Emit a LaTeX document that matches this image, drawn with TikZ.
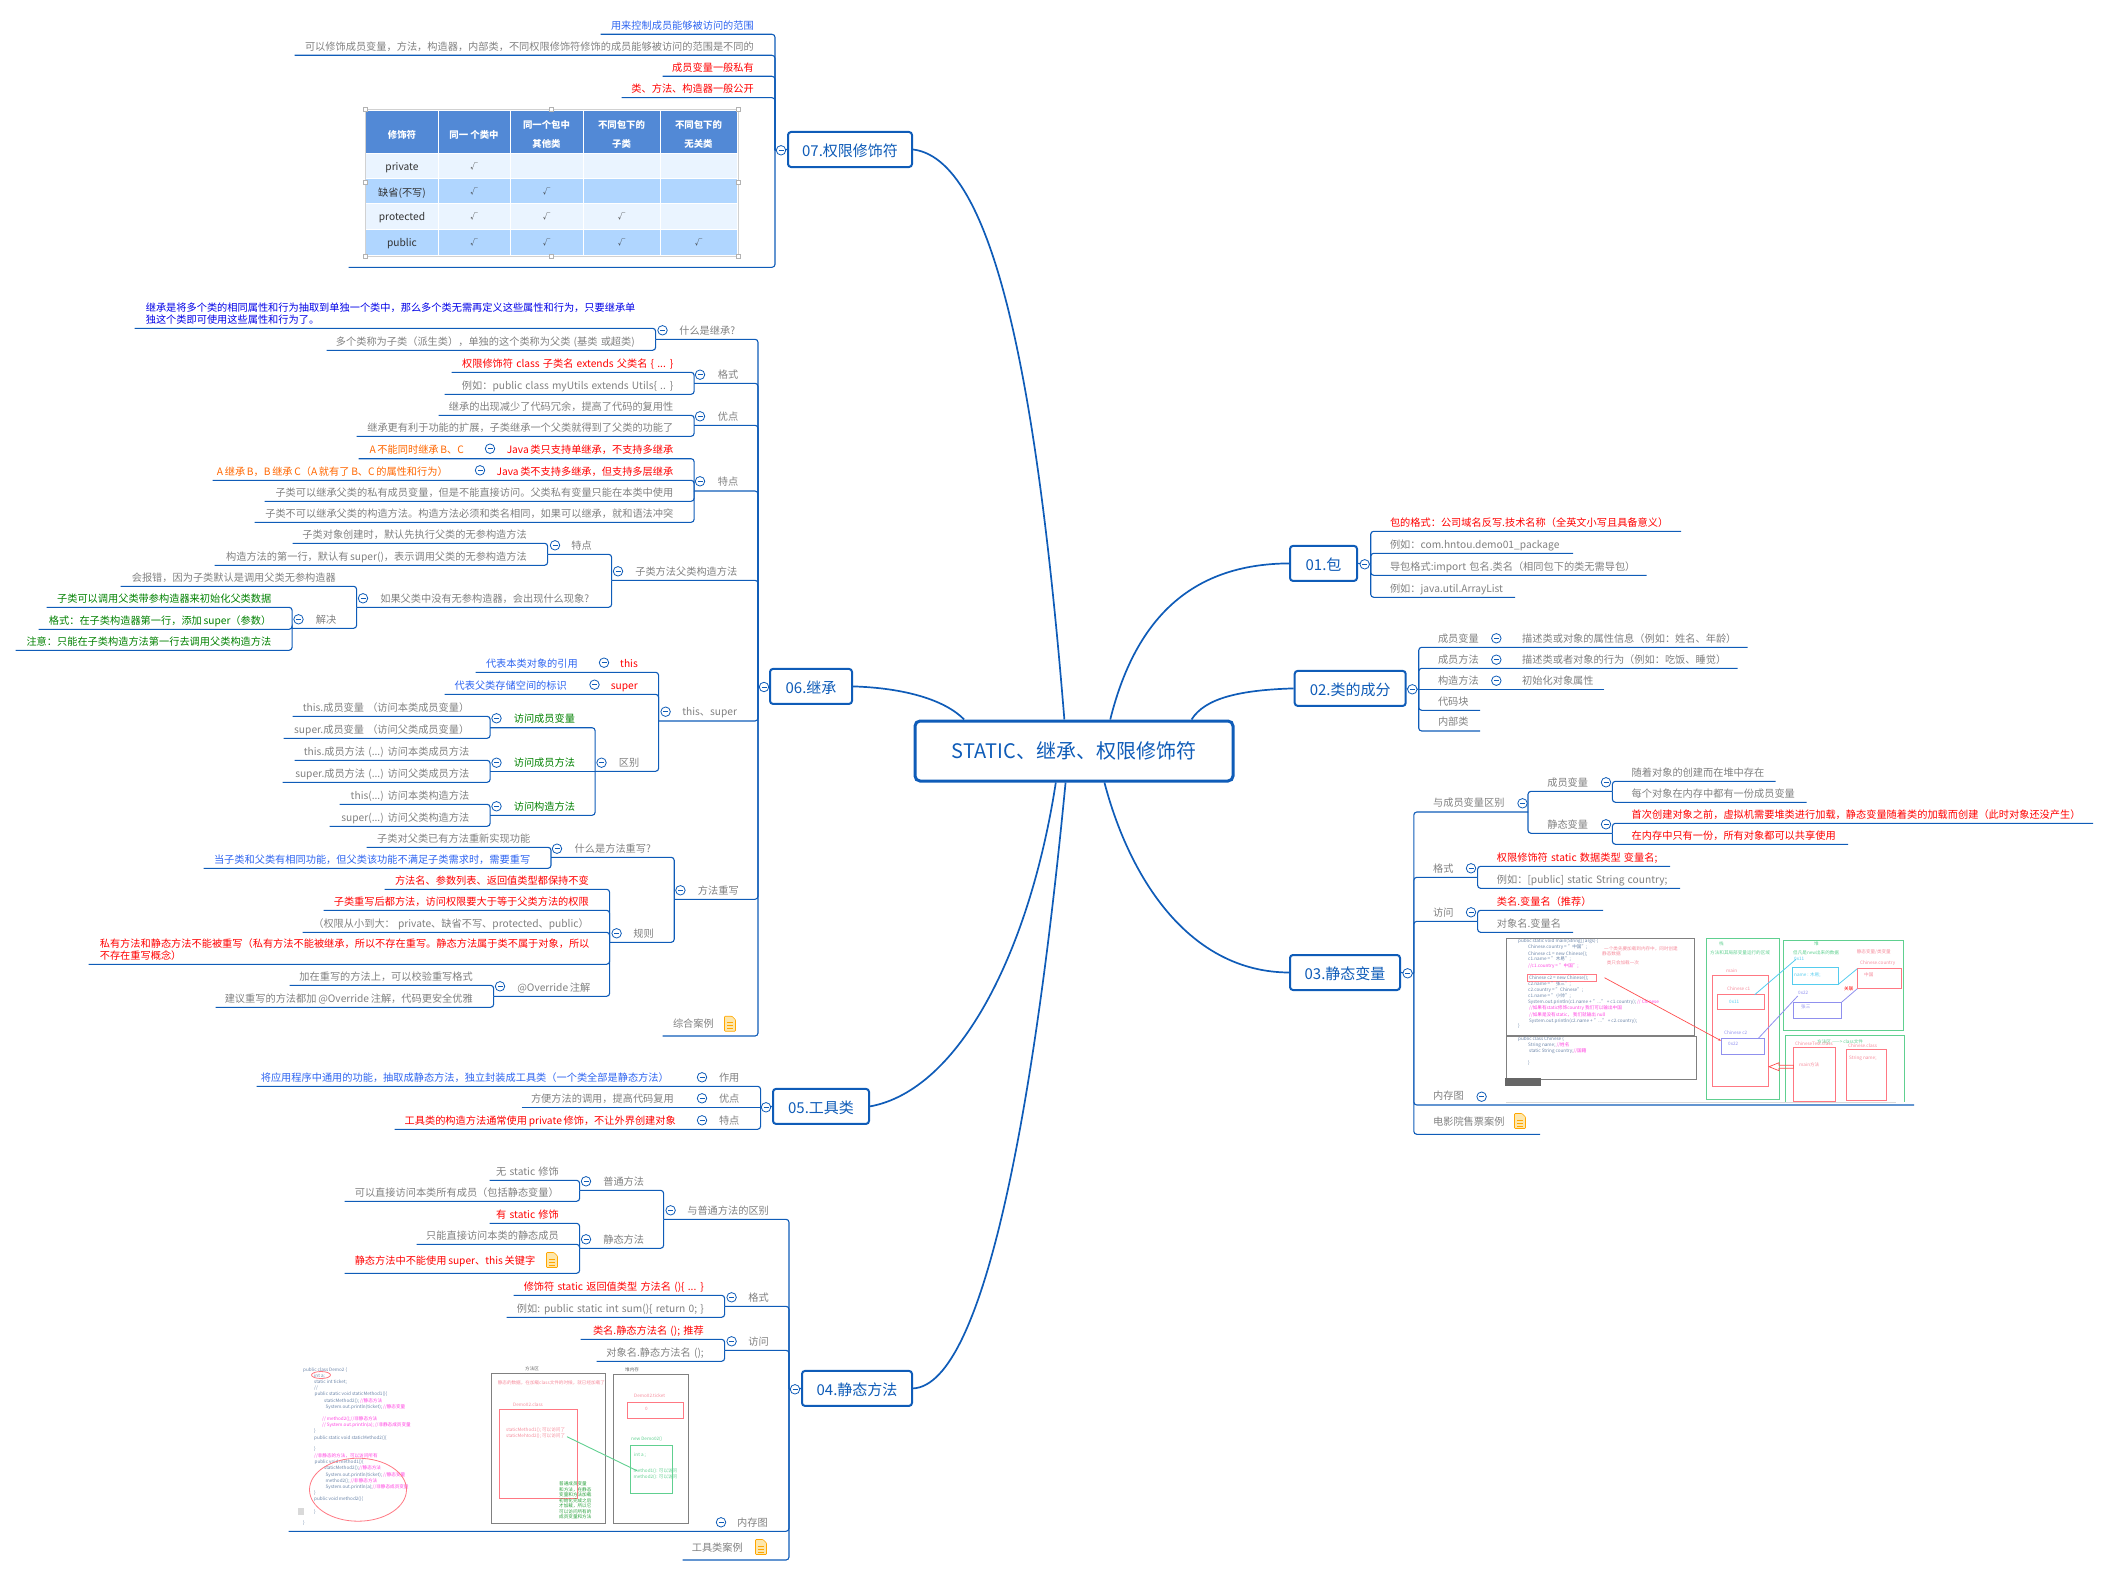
\documentclass[tikz,border=0pt]{standalone}
\usepackage{fontspec}
\setmainfont{Noto Sans CJK SC}
\usetikzlibrary{arrows.meta}

\definecolor{mmblue}{HTML}{0F5CB8}
\definecolor{tgray}{HTML}{808080}
\definecolor{tred}{HTML}{FF0000}
\definecolor{tblue}{HTML}{2D64F0}
\definecolor{tnavy}{HTML}{0000E6}
\definecolor{tgreen}{HTML}{008000}
\definecolor{torange}{HTML}{FF6600}
\definecolor{thead}{HTML}{5289D6}
\definecolor{trow}{HTML}{EAF4FF}
\definecolor{trowb}{HTML}{B0D6FF}
\definecolor{pcode}{HTML}{6A84A8}
\definecolor{ppink}{HTML}{F58C9C}
\definecolor{pgreen}{HTML}{60D090}
\definecolor{pmag}{HTML}{FF40E0}
\definecolor{pred}{HTML}{FF7883}
\definecolor{pcyan}{HTML}{55CCEE}
\definecolor{pperi}{HTML}{9090EE}

\tikzset{
  wire/.style={draw=mmblue, line width=1.1pt, rounded corners=3pt},
  limb/.style={draw=mmblue, line width=1.7pt},
  topic/.style={draw=mmblue, fill=white, line width=2pt, rounded corners=3pt, inner sep=0, text=mmblue, minimum height=35pt, text height=15pt, text depth=1.5pt, font=\fontsize{15}{18}\selectfont},
  root/.style={topic, line width=3pt, rounded corners=5pt, minimum width=318pt, minimum height=60pt, text height=17.6pt, text depth=2.4pt, font=\fontsize{20}{24}\selectfont},
  twig/.style={inner sep=0, text=tgray, font={\fontsize{10.2}{11.7}\selectfont\spaceskip 3.2pt\relax}},
  side/.style={twig, anchor=base east},
  sidew/.style={twig, anchor=base west},
  fold/.style={circle, draw=mmblue, fill=white, line width=.8pt, minimum size=9.5pt, inner sep=0,
    path picture={\draw[draw=mmblue, line width=.7pt] ([xshift=-2.5pt]path picture bounding box.center) -- ([xshift=2.5pt]path picture bounding box.center);}},
  cell/.style={inner sep=0, text=black!80, align=center, font=\fontsize{10.2}{19}\selectfont},
  tick/.style={cell, font=\fontsize{7.5}{9}\selectfont},
  hcell/.style={cell, text=white, font=\bfseries\fontsize{9.4}{19}\selectfont},
  hand/.style={draw=black!30, fill=white, line width=.4pt, minimum size=3.5pt, inner sep=0},
  scr/.style={inner sep=0, anchor=west, text=pcode, font=\fontsize{4.6}{5}\selectfont},
  pgrey/.style={draw=black!50, line width=1pt},
  pbox/.style={draw=#1, line width=1pt},
  notepage/.pic={
    \draw[draw=orange!70!yellow, fill=yellow!45!orange!30, line width=.6pt, rounded corners=.8pt] (-5.5,-7.5) -- (2,-7.5) -- (5.5,-4) -- (5.5,7.5) -- (-5.5,7.5) -- cycle;
    \draw[draw=orange!70!yellow, line width=.8pt] (-3,-1) -- (3,-1) (-3,2) -- (3,2) (-3,5) -- (3,5);
  }
}

% underlined text: flush right, or flush left after \padl
\newcommand{\twigr}[6][]{%
  \pgfmathsetmacro{\twigw}{#4-#3}%
  \node[twig,anchor=south east,#1] (#2) at (#4,#5) {\makebox[\twigw pt][r]{\rule[-5pt]{0pt}{10pt}#6\hspace{21pt}}};}
\newcommand{\twigl}[6][]{%
  \pgfmathsetmacro{\twigw}{#4-#3}%
  \node[twig,anchor=south east,#1] (#2) at (#4,#5) {\makebox[\twigw pt][l]{\rule[-5pt]{0pt}{10pt}\hspace{\padl}#6}};}
\newcommand{\padl}{23.5pt}

\begin{document}
\begin{tikzpicture}[x=1pt,y=-1pt]
  \useasboundingbox (0,0) rectangle (2109,1576);

  % topics
  \node[root] (main) at (1074,751) {STATIC、继承、权限修饰符};
  \node[topic,minimum width=124pt] (n07) at (850,149.5) {07.权限修饰符};
  \node[topic,minimum width=82pt] (n06) at (811,686.4) {06.继承};
  \node[topic,minimum width=96pt] (n05) at (821,1106.4) {05.工具类};
  \node[topic,minimum width=110pt] (n04) at (857,1388.4) {04.静态方法};
  \node[topic,minimum width=67pt] (n01) at (1323.5,563.4) {01.包};
  \node[topic,minimum width=111pt] (n02) at (1350.2,688.4) {02.类的成分};
  \node[topic,minimum width=110pt] (n03) at (1345,972.5) {03.静态变量};

  \draw[limb] (n07.east) .. controls (1000,160) and (1040,420) .. (main.107);
  \draw[limb] (n06.east) .. controls (905,688) and (945,700) .. (main.164);
  \draw[limb] (n05.east) .. controls (960,1090) and (1030,950) .. (main.-120);
  \draw[limb] (n04.east) .. controls (985,1385) and (1035,1100) .. (main.-105.6);
  \draw[limb] (n01.west) .. controls (1190,564) and (1135,620) .. (main.41.4);
  \draw[limb] (n02.west) .. controls (1240,690) and (1205,698) .. (main.15.9);
  \draw[limb] (n03.west) .. controls (1190,972) and (1130,880) .. (main.-46.3);

  \coordinate (h07) at (775,150.3);
  \coordinate (h06) at (758,687);
  \coordinate (h05) at (760.6,1107.3);
  \coordinate (h04) at (789,1389.3);
  \coordinate (h01) at (1370.7,564.3);
  \coordinate (h02) at (1418.7,689.3);
  \coordinate (h03) at (1413.8,973.3);

  % 07
  \twigr[text=tblue]{q1}{601}{775}{34.3}{用来控制成员能够被访问的范围}
  \twigr{q2}{295}{775}{55.3}{可以修饰成员变量，方法，构造器，内部类，不同权限修饰符修饰的成员能够被访问的范围是不同的}
  \twigr[text=tred]{q3}{663}{775}{76.3}{成员变量一般私有}
  \twigr[text=tred]{q4}{622}{775}{97.7}{类、方法、构造器一般公开}
  \twigr{q5}{349}{775}{267.3}{}

  % 07 table
  \draw[draw=black!18, line width=.8pt] (365,109) rectangle (738,256);
  \fill[thead] (366,110.7) rectangle (737,153.3);
  \fill[trow] (366,153.3) rectangle (737,178.3);
  \fill[trowb] (366,178.3) rectangle (737,203.3);
  \fill[trow] (366,203.3) rectangle (737,229.3);
  \fill[trowb] (366,229.3) rectangle (737,255);
  \foreach \x in {438,510,583,660} \draw[white, line width=.8pt] (\x,110.7) -- (\x,255);
  \foreach \y in {153.3,178.3,203.3,229.3} \draw[white, line width=1.2pt] (366,\y) -- (737,\y);
  \node[hcell] (th1) at (402,134.5) {修饰符};
  \node[hcell] (th2) at (474,134.5) {同一 个类中};
  \node[hcell] (th3) at (546.5,134.5) {同一个包中\\其他类};
  \node[hcell] (th4) at (621.5,134.5) {不同包下的\\子类};
  \node[hcell] (th5) at (698.5,134.5) {不同包下的\\无关类};
  \node[cell] (tr1) at (402,168) {private};
  \node[cell] (tr2) at (402,193) {缺省(不写)};
  \node[cell] (tr3) at (402,218) {protected};
  \node[cell] (tr4) at (402,244) {public};
  \foreach \x/\y [count=\i] in {474/167,474/192,546.5/192,474/217,546.5/217,621.5/217,474/243,546.5/243,621.5/243,698.5/243}
    \node[tick] (tk\i) at (\x,\y) {√};
  \foreach \x/\y [count=\i] in {365/109,551/109,738/109,365/182,738/182,365/256,551/256,738/256}
    \node[hand] (ha\i) at (\x,\y) {};

  % 06
  \twigl{wa}{656}{758}{339.3}{什么是继承?}
  \twigr[text=tnavy]{wa1}{135}{656}{328.3}{\parbox[b]{489pt}{继承是将多个类的相同属性和行为抽取到单独一个类中，那么多个类无需再定义这些属性和行为，只要继承单\\独这个类即可使用这些属性和行为了。}}
  \twigr{wa2}{327}{656}{350.3}{多个类称为子类（派生类），单独的这个类称为父类 (基类 或超类)}
  \twigl{ge}{694.5}{758}{383.3}{格式}
  \twigr[text=tred]{ge1}{452}{694.5}{372.3}{权限修饰符 class 子类名 extends 父类名 \{ ... \}}
  \twigr{ge2}{445}{694.5}{394.3}{例如：public class  myUtils extends Utils\{ .. \}}
  \twigl{yo}{694.5}{758}{425.3}{优点}
  \twigr{yo1}{439}{694.5}{415.3}{继承的出现减少了代码冗余，提高了代码的复用性}
  \twigr{yo2}{357}{694.5}{436.3}{继承更有利于功能的扩展，子类继承一个父类就得到了父类的功能了}
  \twigl{te}{694.5}{758}{491}{特点}
  \twigr[text=tred]{te1}{359}{694.5}{458.7}{Java\,类只支持单继承，不支持多继承}
  \twigr[text=tred]{te2}{213}{694.5}{480.3}{Java\,类不支持多继承，但支持多层继承}
  \twigr{te3}{265}{694.5}{501.3}{子类可以继承父类的私有成员变量，但是不能直接访问。父类私有变量只能在本类中使用}
  \twigr{te4}{255}{694.5}{522.3}{子类不可以继承父类的构造方法。构造方法必须和类名相同，如果可以继承，就和语法冲突}
  \node[side,text=torange] (te1a) at (464,453.7) {A\,不能同时继承\,B、C};
  \node[side,text=torange] (te2a) at (448,475.3) {A\,继承\,B，B\,继承\,C（A\,就有了\,B、C\,的属性和行为）};

  \twigl{gz}{612}{758}{580.3}{子类方法父类构造方法}
  \twigl{tc}{548}{612}{554.3}{特点}
  \twigr{tc1}{293}{548}{543.3}{子类对象创建时，默认先执行父类的无参构造方法}
  \twigr{tc2}{215}{548}{565.3}{构造方法的第一行，默认有\,super()，表示调用父类的无参构造方法}
  \twigl{rf}{357}{612}{607.3}{如果父类中没有无参构造器，会出现什么现象?}
  \twigr{rf1}{121}{357}{586.3}{会报错，因为子类默认是调用父类无参构造器}
  \twigl{jj}{292.5}{357}{628.3}{解决}
  \twigr[text=tgreen]{jj1}{47}{292.5}{607.3}{子类可以调用父类带参构造器来初始化父类数据}
  \twigr[text=tgreen]{jj2}{39}{292.5}{629.3}{格式：在子类构造器第一行，添加\,super（参数）}
  \twigr[text=tgreen]{jj3}{16}{292.5}{650.3}{注意：只能在子类构造方法第一行去调用父类构造方法}

  \twigl{ts}{659}{758}{721}{this、super}
  \twigr[text=tred]{ts1}{476}{659}{672.3}{this}
  \twigr[text=tred]{ts2}{445}{659}{694.3}{super}
  \node[side,text=tblue] (ts1a) at (578,667.3) {代表本类对象的引用};
  \node[side,text=tblue] (ts2a) at (567,689.3) {代表父类存储空间的标识};
  \twigl{qb}{595.5}{659}{771.3}{区别}
  \twigl[text=tgreen]{qb1}{490.5}{595.5}{727.7}{访问成员变量}
  \twigl[text=tgreen]{qb2}{490.5}{595.5}{771.3}{访问成员方法}
  \twigl[text=tgreen]{qb3}{490.5}{595.5}{815.3}{访问构造方法}
  \twigr{va1}{293}{490.5}{716.3}{this.成员变量  （访问本类成员变量）}
  \twigr{va2}{284}{490.5}{738.3}{super.成员变量  （访问父类成员变量）}
  \twigr{me1}{295}{490.5}{760.3}{this.成员方法 (...) 访问本类成员方法}
  \twigr{me2}{283}{490.5}{782.3}{super.成员方法 (...)  访问父类成员方法}
  \twigr{co1}{340}{490.5}{804.3}{this(...) 访问本类构造方法}
  \twigr{co2}{330}{490.5}{826.3}{super(...) 访问父类构造方法}

  \twigl{cx}{674.6}{758}{899.3}{方法重写}
  \twigl{wr}{551.4}{674.6}{857.3}{什么是方法重写?}
  \twigr{wr1}{367}{551.4}{847.3}{子类对父类已有方法重新实现功能}
  \twigr[text=tblue]{wr2}{204}{551.4}{868.3}{当子类和父类有相同功能，但父类该功能不满足子类需求时，需要重写}
  \twigl{gu}{610}{674.6}{942.3}{规则}
  \twigr[text=tred]{gu1}{385}{610}{889.3}{方法名、参数列表、返回值类型都保持不变}
  \twigr[text=tred]{gu2}{324}{610}{910.3}{子类重写后都方法，访问权限要大于等于父类方法的权限}
  \twigr{gu3}{303}{610}{932.3}{（权限从小到大： private、缺省不写、protected、public）}
  \twigr[text=tred]{gu4}{89}{610}{964.3}{\parbox[b]{489pt}{私有方法和静态方法不能被重写（私有方法不能被继承，所以不存在重写。静态方法属于类不属于对象，所以\\不存在重写概念）}}
  \twigl{ov}{494}{610}{996.3}{@Override\,注解}
  \twigr{ov1}{290}{494}{985.3}{加在重写的方法上，可以校验重写格式}
  \twigr{ov2}{216}{494}{1007.3}{建议重写的方法都加\,@Override\,注解，代码更安全优雅}
  \twigr{zh}{663}{758}{1036}{\raisebox{3.5pt}{综合案例}\hspace{23pt}}
  \pic at (730,1023.7) {notepage};

  % 05
  \twigr{gj1}{257}{760.6}{1086.3}{作用}
  \twigr{gj2}{522}{760.6}{1107.3}{优点}
  \twigr{gj3}{395}{760.6}{1129.3}{特点}
  \node[side,text=tblue] (gj1a) at (669,1081.3) {将应用程序中通用的功能，抽取成静态方法，独立封装成工具类（一个类全部是静态方法）};
  \node[side] (gj2a) at (674,1102.3) {方便方法的调用，提高代码复用};
  \node[side,text=tred] (gj3a) at (676,1124.3) {工具类的构造方法通常使用\,private\,修饰，不让外界创建对象};

  % 04
  \twigl{df}{664}{789}{1219.3}{与普通方法的区别}
  \twigl{pt}{580}{664}{1190.3}{普通方法}
  \twigr{pt1}{490}{580}{1180.3}{无 static 修饰}
  \twigr{pt2}{345}{580}{1201.3}{可以直接访问本类所有成员（包括静态变量）}
  \twigl{jt}{580}{664}{1248.3}{静态方法}
  \twigr[text=tred]{jt1}{490}{580}{1223.3}{有 static 修饰}
  \twigr{jt2}{417}{580}{1244.3}{只能直接访问本类的静态成员}
  \twigr[text=tred]{jt3}{345}{580}{1273.3}{\raisebox{3.5pt}{静态方法中不能使用\,super、this\,关键字}\hspace{23.5pt}}
  \pic at (552,1260) {notepage};
  \twigl{ms}{725}{789}{1306.3}{格式}
  \twigr[text=tred]{ms1}{514}{725}{1295.3}{修饰符 static 返回值类型 方法名 ()\{ ... \}}
  \twigr{ms2}{507}{725}{1317.3}{例如: public static int sum()\{ return 0; \}}
  \twigl{fw}{725}{789}{1350.3}{访问}
  \twigr[text=tred]{fw1}{581}{725}{1339.3}{类名.静态方法名 (); 推荐}
  \twigr{fw2}{597}{725}{1361.3}{对象名.静态方法名 ();}
  \twigr{nc}{289}{789}{1531.3}{内存图}
  \twigr{gc}{683}{789}{1560}{\raisebox{3.5pt}{工具类案例}\hspace{25pt}}
  \pic at (761,1547) {notepage};

  % 04 memory picture
  \foreach \x/\y/\t [count=\i] in {
    303/1370/{public class Demo2 \{},
    314/1376/{int a;},
    314/1382/{static int ticket;},
    314/1388/{//},
    314.5/1394.3/{public static void staticMethod1()\{},
    324/1400.7/{staticMethod2();  \textcolor{pmag}{//静态方法}},
    325.5/1406.7/{System.out.println(ticket); \textcolor{pmag}{//静态变量}},
    322/1419.3/{\textcolor{pmag}{// method2();//非静态方法}},
    322/1425.3/{\textcolor{pmag}{// System.out.println(a); //非静态成员变量}},
    314/1431/{\}},
    314/1437.7/{public static void staticMethod2()\{},
    314/1449/{\}},
    314/1456/{\textcolor{pmag}{//非静态的方法，可以访问所有}},
    314.5/1462/{public  void method1()\{},
    324/1468/{staticMethod2();\textcolor{pmag}{//静态方法}},
    325.5/1474.7/{System.out.println(ticket); \textcolor{pmag}{//静态变量}},
    325.5/1480.7/{method2(); \textcolor{pmag}{//非静态方法}},
    325.5/1486.7/{System.out.println(a);\textcolor{pmag}{//非静态成员变量}},
    314/1492.7/{\}},
    314/1499.3/{public  void method2()\{},
    314/1511.7/{\}},
    303/1523.3/{\}}}
    \node[scr] (ds\i) at (\x,\y) {\t};
  \fill[black!15] (298,1508) rectangle (304,1515);
  \draw[draw=pred, line width=.8pt] (321,1375) ellipse (9.5 and 3.5);
  \draw[draw=pred, line width=.8pt] (358,1489.7) ellipse (48.5 and 31.5);

  \draw[pgrey] (491,1373) rectangle (605,1523.7);
  \draw[pgrey] (613,1374) rectangle (688,1523.7);
  \draw[pbox=pred] (499,1409) rectangle (577.5,1498);
  \draw[pbox=pred] (627,1402.3) rectangle (683,1418.3);
  \draw[pbox=pgreen] (630,1445.7) rectangle (672,1493.7);
  \draw[draw=pgreen, line width=.9pt] (567,1436.7) -- (637,1470.7);
  \node[scr,text=black!60] (ds31) at (525,1368.7) {方法区};
  \node[scr,text=black!60] (ds32) at (625,1369.3) {堆内存};
  \node[scr,text=ppink] (ds33) at (497.6,1382.7) {静态的数据，在加载class文件的时候，就已经加载了};
  \node[scr,text=ppink] (ds34) at (513,1405) {Demo02.class};
  \node[scr,text=ppink] (ds35) at (506,1430) {staticMethod1(); 可以访问了};
  \node[scr,text=ppink] (ds36) at (506,1436) {staticMehtod2(); 可以访问了};
  \node[scr,text=ppink] (ds37) at (634,1396) {Demo02.ticket};
  \node[scr,text=ppink] (ds38) at (645,1409) {0};
  \node[scr,text=pgreen] (ds39) at (631,1439.3) {new Demo02()};
  \node[scr,text=pgreen] (ds40) at (634,1455) {int a ;};
  \node[scr,text=pgreen] (ds41) at (633.5,1471) {method1(): 可以访问};
  \node[scr,text=pgreen] (ds42) at (633.5,1477) {method2(): 可以访问};
  \foreach \y/\t [count=\i] in {1484/普通成员变量,1489.3/和方法，在静态,1495/变量和方法加载,1500.7/初始化完成之后,1506/才加载，所以它,1511.7/可以访问所有的,1517/成员变量和方法}
    \node[scr,text=tgreen!60!pgreen] (dg\i) at (559,\y) {\t};

  % 01, 02, 03
  \renewcommand{\padl}{19.5pt}
  \twigl[text=tred]{b1}{1370.7}{1681}{531.3}{包的格式：公司域名反写.技术名称（全英文小写且具备意义）}
  \twigl{b2}{1370.7}{1573}{553.3}{例如：com.hntou.demo01\_package}
  \twigl{b3}{1370.7}{1646.7}{575.3}{导包格式:import 包名.类名（相同包下的类无需导包）}
  \twigl{b4}{1370.7}{1515}{597.3}{例如：java.util.ArrayList}

  \twigl{el1}{1418.7}{1747.7}{647.3}{成员变量}
  \twigl{el2}{1418.7}{1737.7}{668.3}{成员方法}
  \twigl{el3}{1418.7}{1604.3}{689.3}{构造方法}
  \twigl{el4}{1418.7}{1480}{710.3}{代码块}
  \twigl{el5}{1418.7}{1480}{731}{内部类}
  \node[sidew] (el1a) at (1522,642.3) {描述类或对象的属性信息（例如：姓名、年龄）};
  \node[sidew] (el2a) at (1522,663.3) {描述类或者对象的行为（例如：吃饭、睡觉）};
  \node[sidew] (el3a) at (1522,684.3) {初始化对象属性};

  \twigl{yb}{1413.8}{1528}{812}{与成员变量区别}
  \twigl{cy}{1528}{1612.4}{791.3}{成员变量}
  \twigl{cy1}{1612.4}{1775.6}{781.3}{随着对象的创建而在堆中存在}
  \twigl{cy2}{1612.4}{1806.7}{802.3}{每个对象在内存中都有一份成员变量}
  \twigl{jb}{1528}{1612.4}{833.3}{静态变量}
  \twigl[text=tred]{jb1}{1612.4}{2093}{823.3}{首次创建对象之前，虚拟机需要堆类进行加载，静态变量随着类的加载而创建（此时对象还没产生）}
  \twigl[text=tred]{jb2}{1612.4}{1848}{844.3}{在内存中只有一份，所有对象都可以共享使用}
  \twigl{gs}{1413.8}{1477.6}{877.3}{格式}
  \twigl[text=tred]{gs1}{1477.6}{1670}{866.3}{权限修饰符 static 数据类型 变量名;}
  \twigl{gs2}{1477.6}{1680}{888.3}{例如：[public] static String country;}
  \twigl{fs}{1413.8}{1477.6}{921.3}{访问}
  \twigl[text=tred]{fs1}{1477.6}{1603}{910.3}{类名.变量名（推荐）}
  \twigl{fs2}{1477.6}{1573}{932.3}{对象名.变量名}
  \twigl{mm}{1413.8}{1914}{1105}{内存图}
  \twigl{dy}{1413.8}{1540}{1134.3}{\raisebox{3.5pt}{电影院售票案例}}
  \pic at (1520,1121) {notepage};

  % 03 memory picture
  \draw[pgrey] (1506,938.3) rectangle (1694.4,1035);
  \draw[pgrey] (1506,1036.3) rectangle (1696,1079.3);
  \fill[black!60] (1505.4,1078.3) rectangle (1541,1085.7);
  \draw[pbox=pred] (1527.4,974.3) rectangle (1596.6,981);
  \foreach \x/\y/\t [count=\i] in {
    1518/941.3/{public static void main(String[] args) \{},
    1528/947.3/{Chinese.country = "中国";},
    1528/953.7/{Chinese c1 = new Chinese();},
    1528/959.3/{c1.name = "木易";},
    1528/965.7/{\textcolor{pmag}{//c1.country = "中国";}},
    1529/977.7/{Chinese c2 = new Chinese();},
    1528/984/{c2.name = "张三";},
    1528/990.3/{c2.country = "Chinese";},
    1528/996/{c1.name = "小帅";},
    1528/1002.3/{System.out.println(c1.name + "..." + c1.country); \textcolor{pmag}{// Chinese}},
    1529/1008.3/{\textcolor{pmag}{//如果有static修饰country 我们可以输出中国}},
    1529/1014.7/{\textcolor{pmag}{//如果是没有static， 我们就输出 null}},
    1529/1020.7/{System.out.println(c2.name + "..." + c2.country);},
    1518/1026.3/{\}},
    1518/1038.7/{public class Chinese \{},
    1528/1044.7/{String name; \textcolor{pmag}{//姓名}},
    1529/1051/{static String country;\textcolor{pmag}{//国籍}},
    1528/1062.7/{\}}}
    \node[scr] (sc\i) at (\x,\y) {\t};
  \node[scr,text=ppink] (sn1) at (1604,948.7) {一个类先要加载到内存中，同时创建};
  \node[scr,text=ppink] (sn2) at (1602,954) {静态数据};
  \node[scr,text=ppink] (sn3) at (1606.6,962.7) {类只会加载一次};

  \draw[pbox=pgreen] (1706,938.3) rectangle (1779.5,1099.3);
  \draw[pbox=pgreen] (1783.6,940.7) rectangle (1903.4,1030.3);
  \draw[draw=pgreen, line width=1pt] (1785.7,1101.7) -- (1785.7,1035.7) -- (1904,1035.7) -- (1904,1101.7);
  \draw[pbox=pred] (1712,975.7) rectangle (1768.5,1086.3);
  \draw[pbox=pred] (1717.5,994.7) rectangle (1764.3,1009.3);
  \draw[pbox=pperi] (1721,1038.7) rectangle (1764.7,1054.3);
  \draw[pbox=pcyan] (1792,967.3) rectangle (1838.7,984);
  \draw[pbox=pred] (1857.3,968.7) rectangle (1901.4,988.7);
  \draw[pbox=pperi] (1793,1002.3) rectangle (1841.5,1018.7);
  \draw[pbox=pred] (1793.6,1047.7) rectangle (1835,1101);
  \draw[pbox=pred] (1846,1049.3) rectangle (1886,1100.3);
  \draw[draw=pcyan, line width=.8pt] (1754.7,994.7) -- (1796,959.3);
  \draw[draw=pcyan, line width=.8pt] (1838.7,984) -- (1857.3,968.7);
  \draw[draw=pperi, line width=.8pt] (1758,1038.7) -- (1797.7,996);
  \draw[draw=pperi, line width=.8pt] (1841.5,1002.3) -- (1857.3,988.7);
  \draw[draw=tred!70, line width=.7pt, -{Stealth[length=3pt]}] (1604.5,977.7) -- (1721,1040.7);
  \draw[draw=tred!70, line width=.7pt] (1793.6,1065.2) -- (1779,1065.2) -- (1779,1062.7) -- (1769,1066.7) -- (1779,1070.7) -- (1779,1068.2) -- (1793.6,1068.2) -- cycle;
  \fill[black!15] (1506,1101.5) rectangle (1896,1103);
  \node[scr,text=pgreen] (st1) at (1719,944) {栈};
  \node[scr,text=pgreen] (st2) at (1710,952.3) {方法和其局部变量运行的区域};
  \node[scr,text=ppink] (st3) at (1726,971) {main};
  \node[scr,text=ppink] (st4) at (1727,989) {Chinese  c1};
  \node[scr,text=pcyan] (st5) at (1729,1002) {0x11};
  \node[scr,text=pperi] (st6) at (1724,1032.7) {Chinese c2};
  \node[scr,text=pperi] (st7) at (1728,1044) {0x22};
  \node[scr,text=pgreen] (st8) at (1814,944) {堆};
  \node[scr,text=pgreen] (st9) at (1793,952.7) {但凡是new出来的数据};
  \node[scr,text=ppink] (st10) at (1856.6,952) {静态变量/类变量};
  \node[scr,text=pcyan] (st11) at (1794,959.3) {0x11};
  \node[scr,text=pcyan] (st12) at (1794,975) {name : 木易;};
  \node[scr,text=ppink] (st13) at (1860,963.3) {Chinese.country};
  \node[scr,text=ppink] (st14) at (1864,975) {中国};
  \node[scr,text=pperi] (st15) at (1798,993) {0x22};
  \node[scr,text=pperi] (st16) at (1801,1007) {张三};
  \node[scr,text=tred] (st17) at (1844,989) {关联};
  \node[scr,text=pgreen] (st18) at (1817,1042) {方法区 ——> class文件};
  \node[scr,text=ppink] (st19) at (1795,1043.7) {ChineseTest.class};
  \node[scr,text=ppink] (st20) at (1848,1045.7) {Chinese.class};
  \node[scr,text=ppink] (st21) at (1799,1065) {main方法};
  \node[scr,text=ppink] (st22) at (1849,1058) {String name;};

  % connectors
  \draw[wire] (n07.west) -- (h07);
  \draw[wire] (n06.west) -- (h06);
  \draw[wire] (n05.west) -- (h05);
  \draw[wire] (n04.west) -- (h04);
  \draw[wire] (n01.east) -- (h01);
  \draw[wire] (n02.east) -- (h02);
  \draw[wire] (n03.east) -- (h03);

  \draw[wire] (q1.south west) -| (h07);
  \draw[wire] (q2.south west) -| (h07);
  \draw[wire] (q3.south west) -| (h07);
  \draw[wire] (q4.south west) -| (h07);
  \draw[wire] (q5.south west) -| (h07);

  \draw[wire] (wa.south west) -| (h06);
  \draw[wire] (ge.south west) -| (h06);
  \draw[wire] (yo.south west) -| (h06);
  \draw[wire] (te.south west) -| (h06);
  \draw[wire] (gz.south west) -| (h06);
  \draw[wire] (ts.south west) -| (h06);
  \draw[wire] (cx.south west) -| (h06);
  \draw[wire] (zh.south west) -| (h06);
  \draw[wire] (wa1.south west) -| (wa.south west);
  \draw[wire] (wa2.south west) -| (wa.south west);
  \draw[wire] (ge1.south west) -| (ge.south west);
  \draw[wire] (ge2.south west) -| (ge.south west);
  \draw[wire] (yo1.south west) -| (yo.south west);
  \draw[wire] (yo2.south west) -| (yo.south west);
  \draw[wire] (te1.south west) -| (te.south west);
  \draw[wire] (te2.south west) -| (te.south west);
  \draw[wire] (te3.south west) -| (te.south west);
  \draw[wire] (te4.south west) -| (te.south west);
  \draw[wire] (tc.south west) -| (gz.south west);
  \draw[wire] (rf.south west) -| (gz.south west);
  \draw[wire] (tc1.south west) -| (tc.south west);
  \draw[wire] (tc2.south west) -| (tc.south west);
  \draw[wire] (rf1.south west) -| (rf.south west);
  \draw[wire] (jj.south west) -| (rf.south west);
  \draw[wire] (jj1.south west) -| (jj.south west);
  \draw[wire] (jj2.south west) -| (jj.south west);
  \draw[wire] (jj3.south west) -| (jj.south west);
  \draw[wire] (ts1.south west) -| (ts.south west);
  \draw[wire] (ts2.south west) -| (ts.south west);
  \draw[wire] (qb.south west) -| (ts.south west);
  \draw[wire] (qb1.south west) -| (qb.south west);
  \draw[wire] (qb2.south west) -- (qb.south west);
  \draw[wire] (qb3.south west) -| (qb.south west);
  \draw[wire] (va1.south west) -| (qb1.south west);
  \draw[wire] (va2.south west) -| (qb1.south west);
  \draw[wire] (me1.south west) -| (qb2.south west);
  \draw[wire] (me2.south west) -| (qb2.south west);
  \draw[wire] (co1.south west) -| (qb3.south west);
  \draw[wire] (co2.south west) -| (qb3.south west);
  \draw[wire] (wr.south west) -| (cx.south west);
  \draw[wire] (gu.south west) -| (cx.south west);
  \draw[wire] (wr1.south west) -| (wr.south west);
  \draw[wire] (wr2.south west) -| (wr.south west);
  \draw[wire] (gu1.south west) -| (gu.south west);
  \draw[wire] (gu2.south west) -| (gu.south west);
  \draw[wire] (gu3.south west) -| (gu.south west);
  \draw[wire] (gu4.south west) -| (gu.south west);
  \draw[wire] (ov.south west) -| (gu.south west);
  \draw[wire] (ov1.south west) -| (ov.south west);
  \draw[wire] (ov2.south west) -| (ov.south west);

  \draw[wire] (gj1.south west) -| (h05);
  \draw[wire] (gj2.south west) -- (h05);
  \draw[wire] (gj3.south west) -| (h05);

  \draw[wire] (df.south west) -| (h04);
  \draw[wire] (ms.south west) -| (h04);
  \draw[wire] (fw.south west) -| (h04);
  \draw[wire] (nc.south west) -| (h04);
  \draw[wire] (gc.south west) -| (h04);
  \draw[wire] (pt.south west) -| (df.south west);
  \draw[wire] (jt.south west) -| (df.south west);
  \draw[wire] (pt1.south west) -| (pt.south west);
  \draw[wire] (pt2.south west) -| (pt.south west);
  \draw[wire] (jt1.south west) -| (jt.south west);
  \draw[wire] (jt2.south west) -| (jt.south west);
  \draw[wire] (jt3.south west) -| (jt.south west);
  \draw[wire] (ms1.south west) -| (ms.south west);
  \draw[wire] (ms2.south west) -| (ms.south west);
  \draw[wire] (fw1.south west) -| (fw.south west);
  \draw[wire] (fw2.south west) -| (fw.south west);

  \draw[wire] (b1.south east) -| (h01);
  \draw[wire] (b2.south east) -| (h01);
  \draw[wire] (b3.south east) -| (h01);
  \draw[wire] (b4.south east) -| (h01);
  \draw[wire] (el1.south east) -| (h02);
  \draw[wire] (el2.south east) -| (h02);
  \draw[wire] (el3.south east) -- (h02);
  \draw[wire] (el4.south east) -| (h02);
  \draw[wire] (el5.south east) -| (h02);
  \draw[wire] (yb.south east) -| (h03);
  \draw[wire] (gs.south east) -| (h03);
  \draw[wire] (fs.south east) -| (h03);
  \draw[wire] (mm.south east) -| (h03);
  \draw[wire] (dy.south east) -| (h03);
  \draw[wire] (cy.south east) -| (yb.south east);
  \draw[wire] (jb.south east) -| (yb.south east);
  \draw[wire] (cy1.south east) -| (cy.south east);
  \draw[wire] (cy2.south east) -| (cy.south east);
  \draw[wire] (jb1.south east) -| (jb.south east);
  \draw[wire] (jb2.south east) -| (jb.south east);
  \draw[wire] (gs1.south east) -| (gs.south east);
  \draw[wire] (gs2.south east) -| (gs.south east);
  \draw[wire] (fs1.south east) -| (fs.south east);
  \draw[wire] (fs2.south east) -| (fs.south east);

  % fold marks
  \node[fold] (f07) at (781,150.3) {};
  \node[fold] (f06) at (764,687) {};
  \node[fold] (f05) at (766,1107.3) {};
  \node[fold] (f04) at (795,1389.3) {};
  \node[fold] (f01) at (1364.7,564.3) {};
  \node[fold] (f02) at (1412.3,689.3) {};
  \node[fold] (f03) at (1407.6,973.3) {};
  \node[fold] (fwa) at (662.5,330.3) {};
  \node[fold] (fge) at (700,374.7) {};
  \node[fold] (fyo) at (700,416.3) {};
  \node[fold] (fte) at (700,481.3) {};
  \node[fold] (fte1) at (490,448.7) {};
  \node[fold] (fte2) at (480,470.3) {};
  \node[fold] (fgz) at (618,571.3) {};
  \node[fold] (ftc) at (555,545.3) {};
  \node[fold] (frf) at (363,598.3) {};
  \node[fold] (fjj) at (298.5,619.3) {};
  \node[fold] (fts) at (665.6,711.7) {};
  \node[fold] (fts1) at (604,662.7) {};
  \node[fold] (fts2) at (594.5,684.7) {};
  \node[fold] (fqb) at (601.5,762.7) {};
  \node[fold] (fqb1) at (496.5,718.3) {};
  \node[fold] (fqb2) at (496.5,762.7) {};
  \node[fold] (fqb3) at (496.5,806.3) {};
  \node[fold] (fcx) at (680.4,890.3) {};
  \node[fold] (fwr) at (557,848.7) {};
  \node[fold] (fgu) at (616.6,933.3) {};
  \node[fold] (fov) at (500,986.3) {};
  \node[fold] (fgj1) at (702,1077.3) {};
  \node[fold] (fgj2) at (702,1098.3) {};
  \node[fold] (fgj3) at (702,1120.3) {};
  \node[fold] (fdf) at (670.6,1210.3) {};
  \node[fold] (fpt) at (586,1181.3) {};
  \node[fold] (fjt) at (586,1239.3) {};
  \node[fold] (fms) at (731.6,1297.3) {};
  \node[fold] (ffw) at (731.6,1341.3) {};
  \node[fold] (fnc) at (721,1522.3) {};
  \node[fold] (fel1) at (1496.3,638.3) {};
  \node[fold] (fel2) at (1496.3,659.7) {};
  \node[fold] (fel3) at (1496.3,680.7) {};
  \node[fold] (fyb) at (1522.5,803.3) {};
  \node[fold] (fcy) at (1606,782.3) {};
  \node[fold] (fjb) at (1606,824.3) {};
  \node[fold] (fgs) at (1471,868.3) {};
  \node[fold] (ffs) at (1471,912.3) {};
  \node[fold] (fmm) at (1481.6,1096.7) {};
\end{tikzpicture}
\end{document}
